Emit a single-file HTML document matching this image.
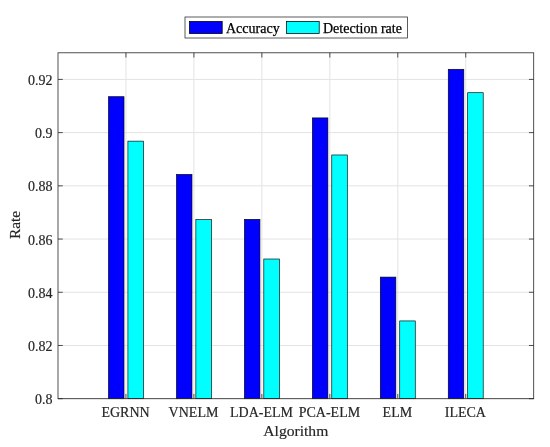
<!DOCTYPE html><html><head><meta charset="utf-8"><title>Chart</title><style>html,body{margin:0;padding:0;background:#fff}svg{display:block}text{font-family:"Liberation Serif","Times New Roman",serif;fill:#262626;stroke:#262626;stroke-width:0.18px}</style></head><body>
<svg width="550" height="447" viewBox="0 0 550 447">
<rect width="550" height="447" fill="#fff"/>
<g stroke="#e3e3e3" stroke-width="1"><line x1="125.96" y1="52.8" x2="125.96" y2="398.7"/><line x1="193.91" y1="52.8" x2="193.91" y2="398.7"/><line x1="261.87" y1="52.8" x2="261.87" y2="398.7"/><line x1="329.83" y1="52.8" x2="329.83" y2="398.7"/><line x1="397.79" y1="52.8" x2="397.79" y2="398.7"/><line x1="465.74" y1="52.8" x2="465.74" y2="398.7"/><line x1="58.0" y1="398.70" x2="533.7" y2="398.70"/><line x1="58.0" y1="345.48" x2="533.7" y2="345.48"/><line x1="58.0" y1="292.27" x2="533.7" y2="292.27"/><line x1="58.0" y1="239.05" x2="533.7" y2="239.05"/><line x1="58.0" y1="185.84" x2="533.7" y2="185.84"/><line x1="58.0" y1="132.62" x2="533.7" y2="132.62"/><line x1="58.0" y1="79.41" x2="533.7" y2="79.41"/></g>
<g stroke="#000" stroke-width="0.65"><rect x="108.48" y="96.70" width="15.53" height="302.00" fill="#0000ff"/><rect x="127.90" y="141.14" width="15.53" height="257.56" fill="#00ffff"/><rect x="176.44" y="174.40" width="15.53" height="224.30" fill="#0000ff"/><rect x="195.86" y="219.63" width="15.53" height="179.07" fill="#00ffff"/><rect x="244.40" y="219.36" width="15.53" height="179.34" fill="#0000ff"/><rect x="263.81" y="259.01" width="15.53" height="139.69" fill="#00ffff"/><rect x="312.35" y="117.91" width="15.53" height="280.79" fill="#0000ff"/><rect x="331.77" y="154.97" width="15.53" height="243.73" fill="#00ffff"/><rect x="380.31" y="277.10" width="15.53" height="121.60" fill="#0000ff"/><rect x="399.73" y="320.93" width="15.53" height="77.77" fill="#00ffff"/><rect x="448.27" y="69.30" width="15.53" height="329.40" fill="#0000ff"/><rect x="467.68" y="92.71" width="15.53" height="305.99" fill="#00ffff"/></g>
<g stroke="#262626" stroke-width="0.8" fill="none"><line x1="125.96" y1="398.7" x2="125.96" y2="393.95"/><line x1="125.96" y1="52.8" x2="125.96" y2="57.55"/><line x1="193.91" y1="398.7" x2="193.91" y2="393.95"/><line x1="193.91" y1="52.8" x2="193.91" y2="57.55"/><line x1="261.87" y1="398.7" x2="261.87" y2="393.95"/><line x1="261.87" y1="52.8" x2="261.87" y2="57.55"/><line x1="329.83" y1="398.7" x2="329.83" y2="393.95"/><line x1="329.83" y1="52.8" x2="329.83" y2="57.55"/><line x1="397.79" y1="398.7" x2="397.79" y2="393.95"/><line x1="397.79" y1="52.8" x2="397.79" y2="57.55"/><line x1="465.74" y1="398.7" x2="465.74" y2="393.95"/><line x1="465.74" y1="52.8" x2="465.74" y2="57.55"/><line x1="58.0" y1="398.70" x2="62.75" y2="398.70"/><line x1="533.7" y1="398.70" x2="528.95" y2="398.70"/><line x1="58.0" y1="345.48" x2="62.75" y2="345.48"/><line x1="533.7" y1="345.48" x2="528.95" y2="345.48"/><line x1="58.0" y1="292.27" x2="62.75" y2="292.27"/><line x1="533.7" y1="292.27" x2="528.95" y2="292.27"/><line x1="58.0" y1="239.05" x2="62.75" y2="239.05"/><line x1="533.7" y1="239.05" x2="528.95" y2="239.05"/><line x1="58.0" y1="185.84" x2="62.75" y2="185.84"/><line x1="533.7" y1="185.84" x2="528.95" y2="185.84"/><line x1="58.0" y1="132.62" x2="62.75" y2="132.62"/><line x1="533.7" y1="132.62" x2="528.95" y2="132.62"/><line x1="58.0" y1="79.41" x2="62.75" y2="79.41"/><line x1="533.7" y1="79.41" x2="528.95" y2="79.41"/><rect x="58.0" y="52.8" width="475.70000000000005" height="345.9"/></g>
<g font-size="14"><text x="52.4" y="404.30" text-anchor="end">0.8</text><text x="52.4" y="351.08" text-anchor="end">0.82</text><text x="52.4" y="297.87" text-anchor="end">0.84</text><text x="52.4" y="244.65" text-anchor="end">0.86</text><text x="52.4" y="191.44" text-anchor="end">0.88</text><text x="52.4" y="138.22" text-anchor="end">0.9</text><text x="52.4" y="85.01" text-anchor="end">0.92</text><text x="125.56" y="416.8" text-anchor="middle">EGRNN</text><text x="193.51" y="416.8" text-anchor="middle">VNELM</text><text x="261.47" y="416.8" text-anchor="middle">LDA-ELM</text><text x="329.43" y="416.8" text-anchor="middle">PCA-ELM</text><text x="397.39" y="416.8" text-anchor="middle">ELM</text><text x="465.34" y="416.8" text-anchor="middle">ILECA</text></g>
<text x="295.8" y="435.6" font-size="15.6" text-anchor="middle">Algorithm</text>
<text transform="translate(20.2,225) rotate(-90)" font-size="15.4" text-anchor="middle">Rate</text>
<rect x="185" y="17" width="222.5" height="21" fill="#fff" stroke="#262626" stroke-width="0.75"/>
<rect x="189.4" y="21.4" width="32.8" height="12.2" fill="#0000ff" stroke="#000" stroke-width="0.75"/>
<text x="226" y="33" font-size="14" style="fill:#000;stroke:#000;stroke-width:0.25px">Accuracy</text>
<rect x="286.4" y="21.4" width="32.8" height="12.2" fill="#00ffff" stroke="#000" stroke-width="0.75"/>
<text x="323" y="33" font-size="14" style="fill:#000;stroke:#000;stroke-width:0.25px">Detection rate</text>
</svg></body></html>
